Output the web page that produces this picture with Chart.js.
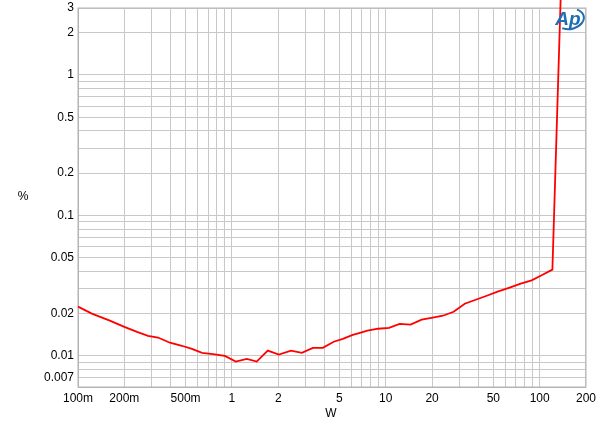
<!DOCTYPE html>
<html>
<head>
<meta charset="utf-8">
<script src="https://cdn.jsdelivr.net/npm/chart.js@4"></script>
<style>
  html, body { margin: 0; padding: 0; background: #fff; }
  #wrap { width: 600px; height: 429px; }
</style>
</head>
<body>
<div id="wrap"><canvas id="chart" width="600" height="429"></canvas></div>
<script>
// Данные графика (W -> %)
const powerW = [0.1, 0.123, 0.161, 0.2, 0.242, 0.285, 0.331, 0.396, 0.473, 0.55, 0.64, 0.753, 0.9,
  1.06, 1.25, 1.45, 1.71, 2.02, 2.42, 2.85, 3.36, 3.9, 4.59, 5.26, 6.1, 6.8, 7.6, 8.9, 10.5, 12.3,
  14.5, 17.1, 20.2, 23.5, 27.6, 32.6, 38.4, 45.3, 53.3, 63.8, 75.3, 88.7, 103, 121, 137];
const thdPct = [0.0224, 0.02, 0.0178, 0.0161, 0.0148, 0.0139, 0.0135, 0.0124, 0.0118, 0.0112, 0.0105,
  0.0103, 0.01, 0.0091, 0.0095, 0.0091, 0.0109, 0.0102, 0.0109, 0.0105, 0.0114, 0.0114, 0.0126,
  0.0132, 0.0141, 0.0146, 0.0151, 0.0156, 0.0158, 0.0169, 0.0167, 0.0181, 0.0187, 0.0193, 0.0206,
  0.0235, 0.0251, 0.0268, 0.0287, 0.0306, 0.0327, 0.0345, 0.0375, 0.0411, 3.6];

// Сетка и подписи осей
const xGrid = [0.1, 0.2, 0.3, 0.4, 0.5, 0.6, 0.7, 0.8, 0.9, 1, 2, 3, 4, 5, 6, 7, 8, 9,
  10, 20, 30, 40, 50, 60, 70, 80, 90, 100, 200];
const xLabels = { 0.1: '100m', 0.2: '200m', 0.5: '500m', 1: '1', 2: '2', 5: '5', 10: '10', 20: '20', 50: '50', 100: '100', 200: '200' };
const yGrid = [0.006, 0.007, 0.008, 0.009, 0.01, 0.02, 0.03, 0.04, 0.05, 0.06, 0.07, 0.08, 0.09,
  0.1, 0.2, 0.3, 0.4, 0.5, 0.6, 0.7, 0.8, 0.9, 1, 2, 3];
const yLabels = { 0.007: '0.007', 0.01: '0.01', 0.02: '0.02', 0.05: '0.05', 0.1: '0.1', 0.2: '0.2', 0.5: '0.5', 1: '1', 2: '2', 3: '3' };

Chart.defaults.font.family = "'Liberation Sans', Arial, sans-serif";
Chart.defaults.font.size = 12;
Chart.defaults.color = '#000';

const labelFor = (map, v) => {
  const key = Object.keys(map).find((k) => Math.abs(Number(k) - v) < v * 1e-6);
  return key !== undefined ? map[key] : '';
};

const chartAreaBorder = {
  id: 'chartAreaBorder',
  beforeDatasetsDraw(chart) {
    const { ctx, chartArea: { left, top, width, height } } = chart;
    ctx.save();
    ctx.strokeStyle = '#b4b4b4';
    ctx.lineWidth = 1;
    ctx.strokeRect(left, top, width, height);
    ctx.restore();
  },
};

const extras = {
  id: 'extras',
  afterDraw(chart) {
    const { ctx } = chart;
    ctx.save();
    ctx.fillStyle = '#000';
    ctx.font = "12px 'Liberation Sans', Arial";
    ctx.textAlign = 'center';
    ctx.textBaseline = 'middle';
    ctx.fillText('W', 331, 414);
    ctx.fillText('%', 23, 197);
    // логотип AP
    ctx.fillStyle = '#1f6db5';
    ctx.strokeStyle = '#1f6db5';
    ctx.font = "italic bold 19px 'Liberation Sans', Arial";
    ctx.fillText('Ap', 568, 20);
    ctx.lineWidth = 2;
    ctx.beginPath();
    ctx.ellipse(570, 19, 14, 10, -0.2, -0.9, 2.3);
    ctx.stroke();
    ctx.restore();
  },
};

const ctxEl = document.getElementById('chart');
const chart = new Chart(ctxEl, {
  type: 'line',
  data: {
    datasets: [{
      data: powerW.map((w, i) => ({ x: w, y: thdPct[i] })),
      borderColor: '#ff0000',
      borderWidth: 1.8,
      pointRadius: 0,
      tension: 0,
      fill: false,
      clip: false,
    }],
  },
  options: {
    responsive: false,
    animation: false,
    layout: { padding: { left: 0, top: 8, right: 14, bottom: 0 } },
    scales: {
      x: {
        type: 'logarithmic',
        min: 0.1,
        max: 200,
        afterBuildTicks: (scale) => { scale.ticks = xGrid.map((v) => ({ value: v })); },
        afterFit: (scale) => { scale.height = 42; },
        ticks: {
          autoSkip: false,
          maxRotation: 0,
          padding: 4,
          callback: (v) => labelFor(xLabels, v),
        },
        grid: { color: '#c8c8c8', drawTicks: false, lineWidth: 1 },
        border: { display: true, color: '#b4b4b4' },
      },
      y: {
        type: 'logarithmic',
        min: 0.006,
        max: 3,
        afterBuildTicks: (scale) => { scale.ticks = yGrid.map((v) => ({ value: v })); },
        afterFit: (scale) => {
          scale.width = 78;
          scale.paddingTop = 0;
          scale.paddingBottom = 0;
        },
        ticks: {
          autoSkip: false,
          padding: 4,
          callback: (v) => labelFor(yLabels, v),
        },
        grid: { color: '#c8c8c8', drawTicks: false, lineWidth: 1 },
        border: { display: true, color: '#b4b4b4' },
      },
    },
    plugins: {
      legend: { display: false },
      tooltip: { enabled: false },
    },
  },
  plugins: [chartAreaBorder, extras],
});
</script>
</body>
</html>
